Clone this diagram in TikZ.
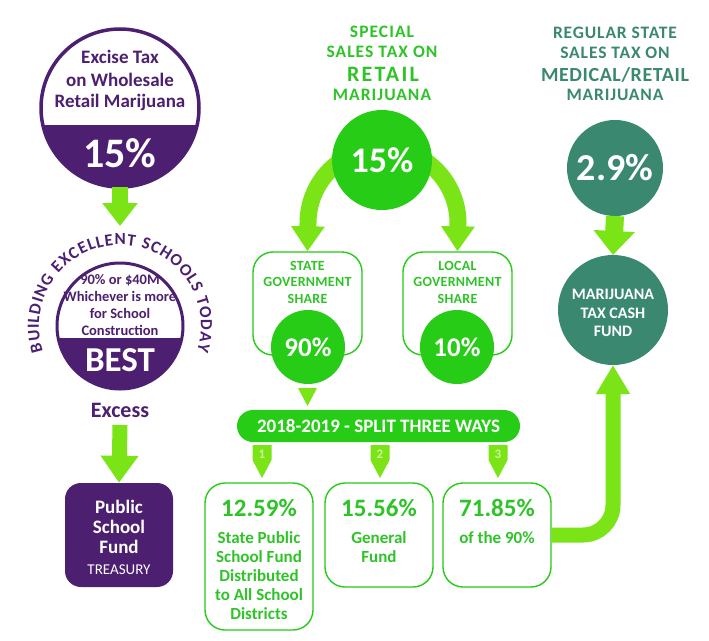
\documentclass[tikz,border=0pt]{standalone}
\usepackage{fontspec}
\setmainfont{Carlito}
\usetikzlibrary{arrows.meta,decorations.text}
\definecolor{purp}{RGB}{76,31,112}
\definecolor{lime}{RGB}{122,228,22}
\definecolor{grn}{RGB}{38,204,22}
\definecolor{gtxt}{RGB}{46,196,40}
\definecolor{tealc}{RGB}{58,136,112}
\definecolor{pale}{RGB}{205,245,160}
\newcommand{\fs}[1]{\fontsize{#1}{#1}\selectfont}
\newcommand{\ls}[1]{\addfontfeature{LetterSpace=#1}}
\begin{document}
\begin{tikzpicture}[x=1pt,y=1pt,
  blockarrow/.style={draw=lime, line width=16pt, -{Triangle[width=34pt,length=23pt]}},
  bigcirc/.style={circle, inner sep=0pt, outer sep=0pt},
  ptitle/.style={text=purp, font=\bfseries\fs{19}},
  gtitle/.style={text=gtxt, font=\bfseries\fs{17.5}\ls{6}},
  ttitle/.style={text=tealc, font=\bfseries\fs{17.5}\ls{5}},
  sharebox/.style={draw=grn, line width=1.4pt, rounded corners=20pt, minimum width=109pt, minimum height=103pt, inner sep=0pt},
  resbox/.style={draw=grn, line width=1.4pt, rounded corners=20pt, minimum width=108pt, inner sep=0pt},
  sharetxt/.style={text=gtxt, font=\bfseries\fontsize{14}{16.5}\selectfont\ls{2}, align=center},
  pcttxt/.style={text=gtxt, font=\bfseries\fs{25}},
  subtxt/.style={text=gtxt, font=\bfseries\fontsize{17}{19}\selectfont, align=center},
  whitebig/.style={text=white, font=\bfseries\fs{40}},
  numtxt/.style={text=pale, font=\bfseries\fs{13}}
]
\useasboundingbox (0,0) rectangle (709,-640);
\fill[white] (0,0) rectangle (709,-640);

% ---------------- left column ----------------
\begin{scope}
  \clip (120,-108) circle (79);
  \fill[purp] (30,-125) rectangle (210,-200);
\end{scope}
\node[bigcirc, draw=purp, line width=3.5pt, minimum size=158pt] (excise) at (120,-108) {};
\node[ptitle] at (120,-57) {Excise Tax};
\node[ptitle] at (120,-80) {on Wholesale};
\node[ptitle] at (120,-102) {Retail Marijuana};
\node[whitebig, font=\bfseries\fs{42}] at (120,-153) {15\%};

\coordinate (bestTop) at (120,-226);
\draw[blockarrow] (excise.south) -- (bestTop);

\begin{scope}
  \clip (120,-326) circle (63);
  \fill[purp] (50,-338) rectangle (190,-400);
\end{scope}
\node[bigcirc, draw=purp, line width=3pt, minimum size=126pt] (best) at (120,-326) {};
\node[text=purp, font=\bfseries\fontsize{14.5}{16.7}\selectfont, align=center] at (120,-305)
  {90\% or \$40M\\Whichever is more\\for School\\Construction};
\node[text=white, font=\bfseries\fs{35}] at (120,-360) {BEST};
\path[decorate, decoration={text along path, text align=fit to path,
  text={|\bfseries\fs{17}\color{purp}|BUILDING EXCELLENT SCHOOLS TODAY}}]
  (best.center) ++(198:81) arc[start angle=198, end angle=-18, radius=81];

\node[text=purp, font=\bfseries\fs{22}] (excess) at (120,-410) {Excess};
\node[fill=purp, rounded corners=16pt, minimum width=108pt, minimum height=104pt, inner sep=0pt] (psf) at (119,-535) {};
\node[text=white, font=\bfseries\fontsize{19}{20}\selectfont, align=center] at (119,-527) {Public\\School\\Fund};
\node[text=white, font=\fs{15}] at (119,-570) {TREASURY};
\draw[blockarrow, line width=15pt, -{Triangle[width=36pt,length=27pt]}] (120,-425) -- (psf.north);

% ---------------- middle column ----------------
\node[gtitle] at (382,-32) {SPECIAL};
\node[gtitle] at (382,-52) {SALES TAX ON};
\node[gtitle, font=\bfseries\fs{22}\ls{10}] at (383,-74) {RETAIL};
\node[gtitle] at (382,-95) {MARIJUANA};

\node[sharebox] (stbox) at (307.5,-303.5) {};
\node[sharebox] (lcbox) at (457.5,-303.5) {};
\node[sharetxt] at (307.5,-282) {STATE\\GOVERNMENT\\SHARE};
\node[sharetxt] at (457.5,-282) {LOCAL\\GOVERNMENT\\SHARE};

\draw[draw=lime, line width=17pt, -{Triangle[width=32pt,length=25pt]}]
  (383,-223) ++(115:75) arc[start angle=115, end angle=180, radius=75] -- (stbox.north);
\draw[draw=lime, line width=17pt, -{Triangle[width=32pt,length=25pt]}]
  (383,-223) ++(65:75) arc[start angle=65, end angle=0, radius=75] -- (lcbox.north);

\node[bigcirc, fill=grn, minimum size=100pt] (c15) at (382,-160) {};
\node[whitebig, font=\bfseries\fs{36}] at (382,-160) {15\%};

\node[bigcirc, fill=grn, minimum size=74pt] (c90) at (308,-347) {};
\node[text=white, font=\bfseries\fs{27}] at (308,-347) {90\%};
\node[bigcirc, fill=grn, minimum size=74pt] (c10) at (457,-347) {};
\node[text=white, font=\bfseries\fs{27}] at (457,-347) {10\%};

\node[fill=grn, rounded corners=16pt, minimum width=283pt, minimum height=32pt, inner sep=0pt,
  text=white, font=\bfseries\fs{19}] (bar) at (378.5,-426) {2018-2019 - SPLIT THREE WAYS};
\fill[lime] (298,-388) -- (317,-388) -- (307.5,-406) -- cycle;

% numbered arrows
\foreach \x/\n in {262/1,380/2,498/3}{
  \fill[lime] (\x-9.5,-445) -- (\x+9.5,-445) -- (\x+9.5,-460) -- (\x,-478) -- (\x-9.5,-460) -- cycle;
  \node[numtxt] at (\x,-454) {\n};
}

\node[resbox, minimum height=147pt] (b1) at (259,-556.5) {};
\node[resbox, minimum height=104pt] (b2) at (379,-535) {};
\node[resbox, minimum height=104pt] (b3) at (497,-535) {};
\node[pcttxt] at (259,-508) {12.59\%};
\node[pcttxt] at (379,-508) {15.56\%};
\node[pcttxt] at (497,-508) {71.85\%};
\node[subtxt, anchor=north] at (259,-528) {State Public\\School Fund\\Distributed\\to All School\\Districts};
\node[subtxt, anchor=north] at (379,-528) {General\\Fund};
\node[subtxt, anchor=north] at (497,-528) {of the 90\%};

% ---------------- right column ----------------
\node[ttitle] at (615,-33) {REGULAR STATE};
\node[ttitle] at (615,-53) {SALES TAX ON};
\node[ttitle, font=\bfseries\fs{20}\ls{3}] at (615,-75) {MEDICAL/RETAIL};
\node[ttitle] at (615,-95) {MARIJUANA};

\node[bigcirc, fill=tealc, minimum size=96pt] (c29) at (615,-168) {};
\node[text=white, font=\bfseries\fs{38}] at (615,-168) {2.9\%};
\node[bigcirc, fill=tealc, minimum size=110pt] (mtcf) at (613,-310) {};
\node[text=white, font=\bfseries\fontsize{16}{18.5}\selectfont, align=center] at (613,-313) {MARIJUANA\\TAX CASH\\FUND};
\draw[draw=lime, line width=18pt, -{Triangle[width=40pt,length=24pt]}] (c29.south) -- (mtcf.north);

\draw[draw=lime, line width=15pt, rounded corners=30pt, -{Triangle[width=32pt,length=29pt]}]
  (b3.east) -| (mtcf.south);
\end{tikzpicture}
\end{document}
